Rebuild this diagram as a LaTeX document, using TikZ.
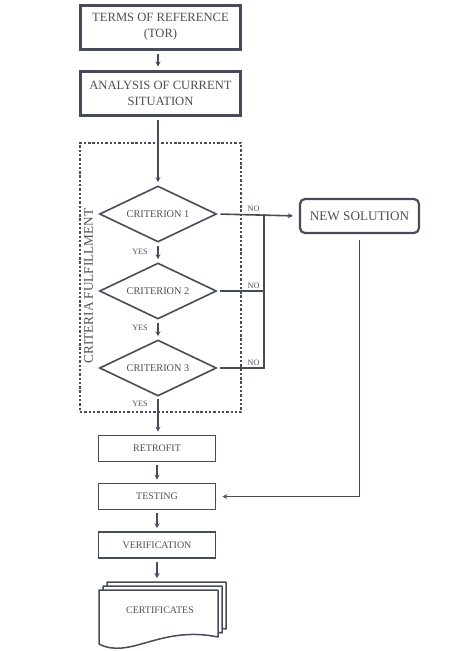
\documentclass[tikz,border=0pt]{standalone}
\usepackage{fontspec}
\setmainfont{Liberation Serif}
\usetikzlibrary{shapes.geometric,arrows.meta}
\definecolor{ln}{HTML}{474B5B}
\definecolor{tx}{HTML}{505050}
\begin{document}
\begin{tikzpicture}[x=1pt,y=1pt,
  bigbox/.style={draw=ln, line width=3pt, text=tx, align=center, inner sep=0pt,
    minimum width=160pt, minimum height=44pt, font=\fontsize{12.6}{16}\selectfont},
  crit/.style={diamond, aspect=2, draw=ln, line width=1.6pt, inner sep=0pt,
    minimum width=117pt, minimum height=56pt, text=tx, font=\fontsize{10.3}{12}\selectfont},
  stepbox/.style={draw=ln, line width=1.6pt, minimum width=117pt, minimum height=26pt,
    inner sep=0pt, text=tx, font=\fontsize{10}{12}\selectfont},
  newsol/.style={draw=ln, line width=2.2pt, rounded corners=5pt, minimum width=119pt,
    minimum height=34pt, inner sep=0pt, text=tx, font=\fontsize{13.2}{15}\selectfont},
  lbl/.style={text=tx, font=\fontsize{8.2}{9}\selectfont, inner sep=0pt},
  arr/.style={draw=ln, line width=1.6pt, -{Stealth[length=5pt,width=5pt]}},
  conn/.style={draw=ln, line width=1.6pt},
  sheetsty/.style={draw=ln, line width=1.5pt, fill=white, line join=round}
]
\fill[white] (0,0) rectangle (474,-651);
\useasboundingbox (0,0) rectangle (474,-651);

% dotted frame
\node[draw=ln, line width=2.6pt, dash pattern=on 2.4pt off 1.9pt, minimum width=161pt,
  minimum height=269pt, inner sep=0pt] (frame) at (160.5,-277.5) {};
\node[rotate=90, text=tx, font=\fontsize{13.2}{14}\selectfont, inner sep=0pt] (cf) at (88.5,-286) {CRITERIA FULFILLMENT};

% nodes
\node[bigbox] (tor) at (160.5,-27) {TERMS OF REFERENCE\\(TOR)};
\node[bigbox] (ana) at (160.5,-93) {ANALYSIS OF CURRENT\\SITUATION};
\node[crit] (c1) at (158,-214) {CRITERION 1};
\node[crit] (c2) at (158,-291) {CRITERION 2};
\node[crit] (c3) at (158,-368) {CRITERION 3};
\node[stepbox] (retro) at (157,-448.5) {RETROFIT};
\node[stepbox] (test) at (157,-496.5) {TESTING};
\node[stepbox] (veri) at (157,-545) {VERIFICATION};
\node[newsol] (ns) at (359.5,-216) {NEW SOLUTION};

% certificates stack
\foreach \d in {8,4,0}{
  \begin{scope}[shift={(\d,\d)}]
    \draw[sheetsty] (99,-590) -- (218,-590) -- (218,-637)
      .. controls (160,-625) and (130,-660) .. (99,-644) -- cycle;
  \end{scope}
}
\node[text=tx, font=\fontsize{10}{12}\selectfont, inner sep=0pt] (cert) at (160,-610) {CERTIFICATES};
\coordinate (certtop) at (157,-582);

% main arrows
\draw[arr, shorten <=3pt, shorten >=3pt] (tor.south -| c1.north) -- (ana.north -| c1.north);
\draw[arr, shorten <=3pt, shorten >=3pt] (ana.south -| c1.north) -- (c1.north);
\draw[arr, shorten <=3pt, shorten >=3pt] (c1.south) -- (c2.north);
\draw[arr, shorten <=3pt, shorten >=3pt] (c2.south) -- (c3.north);
\draw[arr, shorten <=2pt, shorten >=3pt] (c3.south) -- (retro.north -| c3.south);
\draw[arr, shorten <=3pt, shorten >=3pt] (retro.south) -- (test.north);
\draw[arr, shorten <=3pt, shorten >=3pt] (test.south) -- (veri.north);
\draw[arr, shorten <=3pt, shorten >=4pt] (veri.south) -- (certtop);

\node[lbl] (y1) at (140,-252) {YES};
\node[lbl] (y2) at (140,-328) {YES};
\node[lbl] (y3) at (140,-404) {YES};

% NO branches
\coordinate (bus) at (264,-214);
\draw[arr, shorten <=3pt, shorten >=6pt] (c1.east) -- (ns.west);
\draw[conn, shorten <=3pt] (c2.east) -| (bus);
\draw[conn, shorten <=3pt] (c3.east) -| (bus);
\node[lbl] (n1) at (253.5,-208.5) {NO};
\node[lbl] (n2) at (253.5,-286) {NO};
\node[lbl] (n3) at (253.5,-363) {NO};

% return to testing
\draw[arr, shorten <=6pt, shorten >=6pt] (ns.south) |- (test.east);
\end{tikzpicture}
\end{document}
